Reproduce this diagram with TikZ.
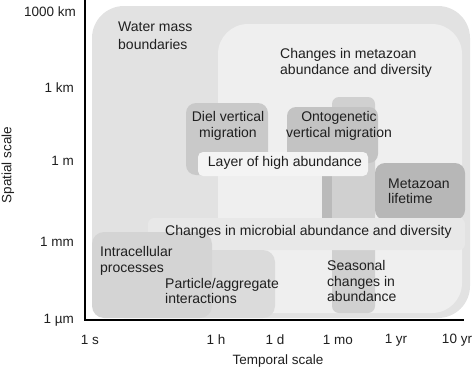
\documentclass[tikz,border=0pt]{standalone}
\usepackage{fontspec}
\setmainfont{Liberation Sans}
\begin{document}
\begin{tikzpicture}[x=1pt,y=-1pt,
  lbl/.style={font=\fontsize{14}{15.5}\selectfont, text=black!88, inner sep=0pt},
  tick/.style={font=\fontsize{13.5}{16}\selectfont, text=black!88, inner sep=0pt},
  region/.style={draw=none}]
\useasboundingbox (0,0) rectangle (474,372);
\definecolor{cwater}{HTML}{E2E2E2}
\definecolor{cmeta}{HTML}{EFEFEF}
\definecolor{cdiel}{HTML}{C9C9C9}
\definecolor{conto}{HTML}{C3C3C3}
\definecolor{cseas}{HTML}{D0D0D0}
\definecolor{cstrip}{HTML}{BABABA}
\definecolor{clife}{HTML}{B7B7B7}
\definecolor{clayer}{HTML}{F4F4F4}
\definecolor{cmicro}{HTML}{E8E8E8}
\definecolor{cpart}{HTML}{DBDBDB}
\definecolor{cintra}{HTML}{D4D4D4}
% regions
\fill[cwater, rounded corners=32pt] (92,6) rectangle (470,318);
\fill[cmeta, rounded corners=30pt] (218,24) rectangle (462,313);
\fill[cseas, rounded corners=7pt] (332,97) rectangle (375,313);
\fill[cstrip] (322,150) rectangle (332,218);
\fill[conto, rounded corners=9pt] (287,107) rectangle (378,163);
\fill[cdiel, rounded corners=10pt] (186,103) rectangle (268,175);
\fill[clife, rounded corners=10pt] (375,163) rectangle (465,220);
\fill[clayer, rounded corners=5pt] (198,152) rectangle (368,176);
\fill[cmicro, rounded corners=6pt] (148,218) rectangle (465,250);
\fill[cpart, rounded corners=12pt] (148,250) rectangle (275,318);
\fill[cintra, rounded corners=12pt] (92,232) rectangle (212,318);
% axes
\coordinate (ytop) at (85,0);
\coordinate (origin) at (85,320);
\coordinate (xend) at (464,320);
\draw[line width=2.5pt, black] (ytop) -- (origin) -- (xend);
% tick labels
\node[tick, anchor=east] (y1) at (76,12) {1000 km};
\node[tick, anchor=east] (y2) at (74,88) {1 km};
\node[tick, anchor=east] (y3) at (74,161) {1 m};
\node[tick, anchor=east] (y4) at (74,242) {1 mm};
\node[tick, anchor=east] (y5) at (74,320) {1 µm};
\node[tick] (x1) at (90,340) {1 s};
\node[tick] (x2) at (216,340) {1 h};
\node[tick] (x3) at (275,340) {1 d};
\node[tick] (x4) at (338,340) {1 mo};
\node[tick] (x5) at (396,340) {1 yr};
\node[tick] (x6) at (457,340) {10 yr};
\node[tick] (xlab) at (278,361) {Temporal scale};
\node[tick, rotate=90] (ylab) at (8,165) {Spatial scale};
% region labels
\node[lbl, align=left, anchor=west, font=\fontsize{14}{18}\selectfont] (water) at (118,36) {Water mass\\boundaries};
\node[lbl, align=left, anchor=west] (meta) at (280,63) {Changes in metazoan\\abundance and diversity};
\node[lbl, align=center] (diel) at (228,126) {Diel vertical\\migration};
\node[lbl, align=center] (onto) at (339,126) {Ontogenetic\\vertical migration};
\node[lbl] (layer) at (285,163) {Layer of high abundance};
\node[lbl, align=left, anchor=west] (life) at (388,191) {Metazoan\\lifetime};
\node[lbl, anchor=west] (micro) at (165,232) {Changes in microbial abundance and diversity};
\node[lbl, align=left, anchor=west] (intra) at (100,261) {Intracellular\\processes};
\node[lbl, align=left, anchor=west] (part) at (165,291) {Particle/aggregate\\interactions};
\node[lbl, align=left, anchor=west] (seas) at (327,281) {Seasonal\\changes in\\abundance};
\end{tikzpicture}
\end{document}
